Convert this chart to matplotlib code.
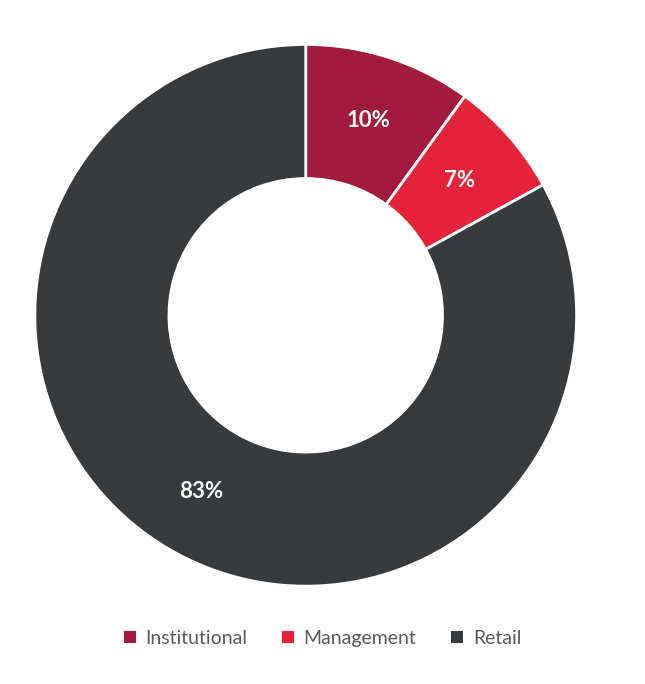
import matplotlib
matplotlib.use("Agg")
import matplotlib.pyplot as plt
from matplotlib.patches import Patch

plt.rcParams['font.family'] = ['Lato', 'DejaVu Sans']

# data
labels = ['Institutional', 'Management', 'Retail']
values = [10, 7, 83]
colors = ['#A21A3C', '#E4233B', '#383B3E']

fig = plt.figure(figsize=(6.45, 6.84), dpi=100)
ax = fig.add_axes([0.054, 0.143, 0.84, 0.792])

wedges, _ = ax.pie(values, colors=colors, startangle=90, counterclock=False,
                   radius=1.0,
                   wedgeprops=dict(width=0.495, edgecolor='white', linewidth=2))

# percentage labels in the ring
import numpy as np
ang = 90.0
for v in values:
    mid = np.deg2rad(ang - v * 3.6 / 2)
    ax.text(0.755 * np.cos(mid), 0.755 * np.sin(mid), f'{v}%',
            ha='center', va='center', color='white', fontsize=16, fontweight='bold')
    ang -= v * 3.6

ax.set_xlim(-1, 1)
ax.set_ylim(-1, 1)
ax.set_aspect('equal')
ax.axis('off')

handles = [Patch(facecolor=c, label=l) for c, l in zip(colors, labels)]
fig.legend(handles=handles, loc='center', bbox_to_anchor=(0.5, 0.067), ncol=3,
           frameon=False, fontsize=14, handlelength=0.6, handleheight=0.6,
           columnspacing=1.8, handletextpad=0.5, labelcolor='#595959')

fig.savefig('out.png', dpi=100)
